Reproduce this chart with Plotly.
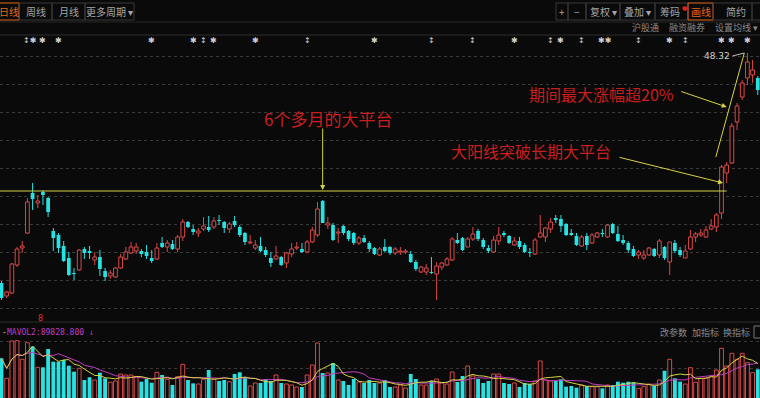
import plotly.graph_objects as go
import pandas as pd

# ---------------- data ----------------
opens = [36.82, 36.17, 36.32, 37.72, 38.57, 39.32, 41.32, 40.82, 41.37, 41.07,
         39.42, 39.22, 38.67, 38.07, 37.32, 37.47, 38.52, 38.42, 37.97, 38.12,
         37.42, 37.17, 37.12, 37.57, 38.02, 38.32, 38.42, 38.42, 38.37, 38.07,
         38.02, 38.82, 38.62, 38.77, 38.52, 39.12, 39.87, 39.52, 39.32, 39.52,
         39.62, 39.62, 39.97, 39.87, 39.52, 39.92, 39.62, 39.32, 38.82, 38.57,
         38.67, 38.47, 38.07, 38.02, 38.12, 37.82, 38.27, 38.57, 38.52, 38.37,
         38.87, 39.22, 40.92, 39.72, 39.72, 39.32, 39.67, 39.42, 39.32, 38.82,
         39.07, 38.82, 38.57, 38.22, 38.62, 38.62, 38.32, 38.37, 38.37, 38.27,
         37.87, 37.37, 37.37, 37.37, 37.27, 37.62, 37.72, 37.97, 38.97, 39.07,
         38.62, 39.02, 39.42, 38.97, 38.57, 38.37, 38.92, 39.32, 39.17, 38.72,
         38.92, 38.72, 38.37, 38.27, 39.12, 39.12, 39.52, 40.07, 40.02, 39.77,
         39.32, 39.17, 38.67, 39.17, 38.82, 39.12, 39.32, 39.12, 39.77, 39.27,
         38.97, 38.82, 38.52, 38.22, 38.07, 38.22, 38.52, 38.22, 38.62, 37.87,
         38.82, 38.47, 38.07, 38.52, 39.12, 39.22, 39.12, 39.52, 39.62, 40.32,
         42.32, 42.82, 44.87, 46.12, 47.07, 47.22, 47.07]
highs = [36.92, 36.42, 37.82, 38.62, 38.92, 41.07, 41.82, 41.22, 41.47, 41.12,
         39.57, 39.32, 38.92, 38.37, 37.57, 38.52, 38.62, 38.67, 38.37, 38.47,
         37.57, 37.47, 37.62, 38.27, 38.62, 38.87, 38.82, 38.52, 38.72, 38.47,
         38.82, 39.12, 38.97, 38.97, 39.22, 40.02, 39.92, 39.72, 39.57, 40.12,
         40.17, 40.12, 40.22, 39.92, 39.87, 40.17, 39.72, 39.37, 39.22, 38.97,
         39.12, 38.62, 38.37, 38.67, 38.17, 38.37, 38.82, 38.87, 38.82, 38.97,
         39.62, 40.87, 40.97, 40.12, 39.82, 39.57, 39.72, 39.47, 39.37, 39.17,
         39.22, 38.92, 38.62, 38.62, 39.02, 38.67, 38.62, 38.62, 38.52, 38.42,
         37.97, 37.67, 37.77, 38.12, 37.87, 37.87, 38.12, 39.12, 39.32, 39.12,
         39.12, 39.62, 39.52, 39.07, 38.72, 39.17, 39.62, 39.42, 39.22, 39.12,
         39.12, 38.82, 38.57, 39.07, 40.22, 39.62, 40.07, 40.22, 40.22, 39.82,
         39.52, 39.32, 39.22, 39.32, 39.32, 39.37, 39.52, 39.77, 39.82, 39.67,
         39.22, 38.92, 38.67, 38.47, 38.47, 38.62, 38.57, 39.02, 38.67, 38.87,
         38.97, 38.62, 38.72, 39.47, 39.37, 39.52, 39.67, 40.02, 40.32, 42.72,
         42.87, 44.82, 45.82, 46.97, 48.32, 47.97, 47.17]
lows = [35.97, 36.07, 36.27, 37.62, 38.32, 39.27, 40.47, 40.57, 40.72, 40.12,
        38.42, 38.32, 37.87, 37.17, 36.97, 37.42, 38.02, 38.02, 37.72, 37.17,
        36.92, 37.02, 37.07, 37.52, 37.97, 38.27, 38.27, 38.12, 38.02, 37.82,
        37.97, 38.57, 38.37, 38.47, 38.37, 38.92, 39.57, 39.22, 39.12, 39.42,
        39.37, 39.52, 39.72, 39.32, 39.32, 39.62, 39.12, 38.72, 38.77, 38.47,
        38.37, 38.12, 37.62, 37.97, 37.67, 37.57, 38.12, 38.47, 38.32, 38.32,
        38.82, 39.12, 39.82, 39.52, 38.92, 38.82, 39.22, 38.92, 38.72, 38.72,
        38.82, 38.37, 38.22, 38.17, 38.37, 38.22, 38.22, 38.22, 38.27, 37.82,
        37.42, 37.32, 37.22, 37.27, 35.97, 37.47, 37.67, 37.92, 38.77, 38.42,
        38.62, 38.92, 38.92, 38.52, 38.32, 38.32, 38.72, 39.12, 38.77, 38.67,
        38.52, 38.32, 38.12, 38.22, 39.07, 38.87, 39.32, 39.82, 39.37, 39.17,
        39.17, 38.67, 38.62, 38.47, 38.77, 39.07, 39.12, 39.07, 39.27, 38.87,
        38.72, 38.32, 38.12, 38.02, 37.97, 38.17, 38.12, 38.07, 37.97, 37.22,
        38.32, 38.12, 38.07, 38.47, 38.87, 39.12, 39.07, 39.47, 39.37, 40.02,
        41.82, 42.77, 44.47, 45.97, 46.72, 46.82, 46.22]
closes = [36.07, 36.37, 37.77, 38.52, 38.67, 40.87, 41.02, 40.92, 41.22, 40.37,
          39.07, 38.57, 37.92, 37.22, 37.27, 38.47, 38.32, 38.32, 38.12, 37.52,
          37.12, 37.32, 37.57, 38.12, 38.37, 38.62, 38.62, 38.27, 38.17, 37.92,
          38.57, 38.62, 38.82, 38.52, 39.12, 39.87, 39.62, 39.37, 39.42, 39.67,
          39.47, 39.92, 39.92, 39.57, 39.77, 39.72, 39.22, 38.87, 38.87, 38.72,
          38.42, 38.22, 37.82, 38.17, 37.72, 38.32, 38.52, 38.62, 38.37, 38.87,
          39.47, 40.52, 39.82, 39.82, 38.97, 39.37, 39.32, 39.02, 38.82, 39.07,
          38.87, 38.52, 38.27, 38.52, 38.42, 38.32, 38.52, 38.42, 38.42, 37.87,
          37.52, 37.62, 37.57, 37.32, 37.67, 37.82, 38.02, 39.02, 38.82, 38.47,
          39.02, 39.27, 39.02, 38.62, 38.42, 38.97, 39.22, 39.22, 38.82, 38.92,
          38.62, 38.37, 38.32, 38.97, 39.32, 39.57, 39.87, 39.97, 39.67, 39.22,
          39.22, 38.72, 39.12, 38.72, 39.22, 39.32, 39.27, 39.72, 39.32, 38.92,
          38.82, 38.47, 38.17, 38.37, 38.22, 38.57, 38.17, 38.92, 38.07, 38.87,
          38.42, 38.22, 38.42, 39.12, 39.27, 39.32, 39.47, 39.67, 40.22, 42.62,
          42.72, 44.67, 45.67, 46.82, 47.87, 47.47, 46.47]
volumes = [101700, 52900, 144000, 144700, 99300, 139800, 130100, 79800, 79800, 124400,
           93500, 93500, 97600, 83700, 69100, 77300, 48800, 55400, 48800, 66600,
           52900, 43200, 46400, 63400, 61000, 61000, 55400, 44700, 51200, 42200,
           67600, 61000, 50500, 36600, 56900, 87100, 48800, 40700, 39000, 50500,
           73200, 50500, 46400, 48800, 44700, 63400, 67600, 55400, 34200, 41500,
           41500, 51200, 46400, 61000, 41500, 39000, 36600, 31700, 31700, 61000,
           85400, 139100, 65900, 65900, 90300, 48800, 46400, 36600, 51200, 43900,
           41500, 48800, 41500, 41500, 48800, 31700, 31700, 36600, 29300, 63400,
           51200, 36600, 36600, 46400, 51200, 41500, 39000, 68300, 43900, 58600,
           83000, 58600, 51200, 41500, 46400, 63400, 63400, 41500, 39000, 41500,
           31700, 41500, 39000, 46400, 95200, 48800, 46400, 46400, 50500, 32500,
           34200, 30000, 36600, 34200, 32500, 32500, 28500, 36600, 36600, 44700,
           42200, 44700, 43200, 28500, 32500, 39000, 34200, 48800, 71500, 99300,
           52900, 44700, 39000, 78800, 43200, 52900, 52900, 56900, 73200, 126100,
           83000, 113900, 99300, 113900, 91000, 66600, 74900]
platform_level = 41.42
info_idx = [5.5, 8, 11, 29, 37, 39, 41, 49, 59, 72, 83, 91, 99, 106, 108, 112,
            116.5, 123, 129, 132, 139, 141, 144]
info_sym = ['↕✱', '✱', '✱', '✱', '✱', '↕', '✱', '✱', '↕', '✱', '↕', '↕', '✱',
            '↕', '✱', '↕', '✱✱', '↕', '✱', '↕', '✱', '✱', '✱']
mavol2_label = 'MAVOL2:89828.800'

# ---------------- style ----------------
W, H = 760, 398
BG = '#0a0a0a'
RED = '#d84848'
CYAN = '#27e2e2'
YEL = '#d4d444'
MAG = '#c23cc2'
GRID = '#3a3a3a'
TXT = '#a6a6a6'
ORANGE = '#e06a1e'
LABEL_RED = '#c81e1e'
CJK = 'Noto Sans CJK SC'


def px(x):
    return x / W


def py(y):
    return 1 - y / H


n = len(opens)
idx = list(range(n))
up = [c >= o for o, c in zip(opens, closes)]

fig = go.Figure()

for flag, color in ((True, RED), (False, CYAN)):
    xs = [i for i in idx if up[i] == flag]
    base = [min(opens[i], closes[i]) for i in xs]
    hgt = [max(abs(closes[i] - opens[i]), 0.05) for i in xs]
    fig.add_trace(go.Bar(
        x=xs, y=hgt, base=base, width=0.72,
        marker=dict(color=BG if flag else CYAN,
                    line=dict(color=color, width=1 if flag else 0)),
        xaxis='x', yaxis='y', hoverinfo='skip'))
    wx, wy = [], []
    for i in xs:
        top = max(opens[i], closes[i])
        bot = min(opens[i], closes[i])
        if highs[i] > top:
            wx += [i, i, None]
            wy += [top, highs[i], None]
        if lows[i] < bot:
            wx += [i, i, None]
            wy += [bot, lows[i], None]
    fig.add_trace(go.Scatter(x=wx, y=wy, mode='lines',
                             line=dict(color=color, width=1),
                             xaxis='x', yaxis='y', hoverinfo='skip'))
    fig.add_trace(go.Bar(
        x=xs, y=[volumes[i] for i in xs], width=0.74,
        marker=dict(color=BG if flag else CYAN,
                    line=dict(color=color, width=1 if flag else 0)),
        xaxis='x2', yaxis='y2', hoverinfo='skip'))

vs = pd.Series(volumes)
ma5 = vs.rolling(5, min_periods=1).mean()
ma10 = vs.rolling(10, min_periods=1).mean()
fig.add_trace(go.Scatter(x=idx, y=ma10, mode='lines', line=dict(color=MAG, width=1),
                         xaxis='x2', yaxis='y2', hoverinfo='skip'))
fig.add_trace(go.Scatter(x=idx, y=ma5, mode='lines', line=dict(color=YEL, width=1),
                         xaxis='x2', yaxis='y2', hoverinfo='skip'))

shapes = []
shapes.append(dict(type='line', xref='x', yref='y', x0=-0.5, x1=140,
                   y0=platform_level, y1=platform_level,
                   line=dict(color=YEL, width=1)))
peak_i = highs.index(max(highs))
shapes.append(dict(type='line', xref='x', yref='y', x0=137.9, y0=43.12,
                   x1=peak_i - 0.6, y1=max(highs),
                   line=dict(color=YEL, width=1)))
for yy, c in ((22, '#262626'), (35, '#2c2c2c'), (322, '#2c2c2c')):
    shapes.append(dict(type='line', xref='paper', yref='paper', x0=0, x1=1,
                       y0=py(yy), y1=py(yy), line=dict(color=c, width=1)))

ann = []


def text(x, y, s, size, color, anchor='center', family=CJK):
    ann.append(dict(x=px(x), y=py(y), xref='paper', yref='paper', text=s,
                    showarrow=False, xanchor=anchor, yanchor='middle',
                    font=dict(size=size, color=color, family=family)))


tabs_left = [(-3, 19, '日线', True), (19, 52, '周线', False), (52, 85, '月线', False),
             (85, 134, '更多周期 ▾', False)]
tabs_right = [(556, 568, '+', False), (568, 586, '−', False), (586, 620, '复权 ▾', False),
              (620, 655, '叠加 ▾', False), (655, 688, '筹码', False),
              (688, 713, '画线', True), (713, 752, '简约', False), (752, 770, '', False)]
for x0, x1, s, sel in tabs_left + tabs_right:
    shapes.append(dict(type='rect', xref='paper', yref='paper', x0=px(x0), x1=px(x1),
                       y0=py(20), y1=py(3),
                       line=dict(color=ORANGE if sel else '#383838', width=1)))
    if s:
        cx = (x0 + x1) / 2
        if s == '日线':
            cx = 9
        if s == '简约':
            cx = 736
        if s == '筹码':
            cx = 670
        text(cx, 11.5, s, 10, ORANGE if sel else TXT)
text(684, 8, '●', 6, '#e02020', family='DejaVu Sans')

text(645, 28, '沪股通', 9, '#8a8a8a')
text(687, 28, '融资融券', 9, '#8a8a8a')
text(736, 28, '设置均线 ▾', 9, '#8a8a8a')

for i, s in zip(info_idx, info_sym):
    ann.append(dict(x=i, y=py(41), xref='x', yref='paper', text=s, showarrow=False,
                    font=dict(size=8, color='#d0d0d0', family='DejaVu Sans'),
                    xanchor='center', yanchor='middle'))

text(328, 118, '6个多月的大平台', 17, LABEL_RED)
text(601, 94, '期间最大涨幅超20%', 16, LABEL_RED)
text(531, 151, '大阳线突破长期大平台', 16, LABEL_RED)

arrow = dict(showarrow=True, arrowhead=2, arrowsize=1, arrowwidth=1, arrowcolor=YEL,
             text='', standoff=0, xref='x', yref='y', axref='pixel', ayref='pixel')
ann.append(dict(arrow, x=62, y=platform_level + 0.05, ax=0, ay=-63))
ann.append(dict(arrow, x=140, y=45.62, ax=-47, ay=-16))
ann.append(dict(arrow, x=139.3, y=41.82, ax=-105, ay=-26))

ann.append(dict(x=peak_i - 0.6, y=max(highs), xref='x', yref='y',
                text='%.2f' % max(highs), showarrow=True, arrowhead=0,
                arrowwidth=1, arrowcolor='#bbbbbb', ax=-12, ay=3,
                xanchor='right', yanchor='middle',
                font=dict(size=9, color='#cfcfcf', family='DejaVu Sans')))

text(40, 318, '8', 8, '#e03030', family='DejaVu Sans')

text(0, 332, '-', 8, YEL, anchor='left', family='DejaVu Sans Mono')
text(5, 332, mavol2_label + ' ↓', 8, MAG, anchor='left', family='DejaVu Sans Mono')
text(673, 332, '改参数', 9, '#8a8a8a')
text(705, 332, '加指标', 9, '#8a8a8a')
text(736, 332, '换指标', 9, '#8a8a8a')
shapes.append(dict(type='rect', xref='paper', yref='paper', x0=px(754), x1=px(762),
                   y0=py(338), y1=py(326), line=dict(color='#777777', width=1)))

fig.update_layout(
    width=W, height=H, margin=dict(l=0, r=0, t=0, b=0),
    paper_bgcolor=BG, plot_bgcolor=BG, showlegend=False, barmode='overlay',
    hovermode=False, shapes=shapes, annotations=ann,
    xaxis=dict(domain=[0, 1], range=[-0.29, 146.43], visible=False, anchor='y'),
    xaxis2=dict(domain=[0, 1], range=[-0.29, 146.43], visible=False, anchor='y2',
                matches='x'),
    yaxis=dict(domain=[py(320), py(36)], range=[34.97, 49.17], showgrid=True,
               gridcolor=GRID, griddash='dot', gridwidth=1, tick0=48.17, dtick=1.4,
               showticklabels=False, zeroline=False, ticks='', showline=False),
    yaxis2=dict(domain=[0, py(323)], range=[4880, 187880], showgrid=True,
                gridcolor=GRID, griddash='dot', gridwidth=1, tick0=78080, dtick=65880,
                showticklabels=False, zeroline=False, ticks='', showline=False),
)

fig.write_html('out.html')
